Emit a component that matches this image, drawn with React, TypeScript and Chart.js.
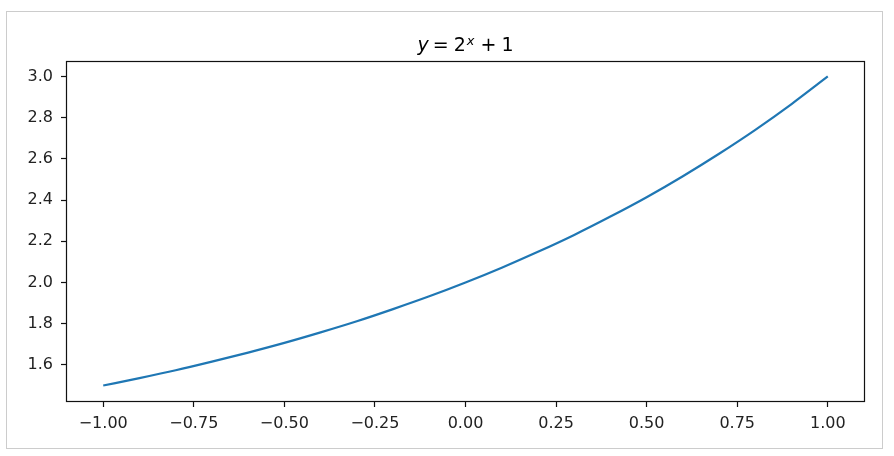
import React, { useEffect, useRef } from "react";
import { Chart, registerables } from "chart.js";

Chart.register(...registerables);

const xValues = [-1.0, -0.9, -0.8, -0.7, -0.6, -0.5, -0.4, -0.3, -0.2, -0.1, 0.0, 0.1, 0.2, 0.3, 0.4, 0.5, 0.6, 0.7, 0.8, 0.9, 1.0];
const yValues = [1.5, 1.536, 1.574, 1.616, 1.66, 1.707, 1.758, 1.812, 1.871, 1.933, 2.0, 2.072, 2.149, 2.231, 2.32, 2.414, 2.516, 2.625, 2.741, 2.866, 3.0];
const xTicks = [-1.0, -0.75, -0.5, -0.25, 0.0, 0.25, 0.5, 0.75, 1.0];
const yTicks = [1.6, 1.8, 2.0, 2.2, 2.4, 2.6, 2.8, 3.0];

const W = 894;
const H = 456;

const framePlugin = {
  id: "frame",
  beforeDraw(chart: any) {
    const ctx = chart.ctx;
    ctx.save();
    ctx.fillStyle = "#ffffff";
    ctx.fillRect(0, 0, W, H);
    ctx.strokeStyle = "#cccccc";
    ctx.lineWidth = 1;
    ctx.strokeRect(6.5, 11.5, 876, 437);
    ctx.restore();
  },
  afterDraw(chart: any) {
    const ctx = chart.ctx;
    const a = chart.chartArea;
    ctx.save();
    ctx.strokeStyle = "#111111";
    ctx.lineWidth = 1.2;
    ctx.strokeRect(a.left - 0.5, a.top + 0.5, a.right - a.left + 1, a.bottom - a.top);
    // title: y = 2^x + 1
    const big = 19;
    const small = 13;
    const parts: { t: string; f: string; dy: number; gap: number }[] = [
      { t: "y", f: `oblique ${big}px "DejaVu Sans"`, dy: 0, gap: 4 },
      { t: "=", f: `${big}px "DejaVu Sans"`, dy: 0, gap: 5 },
      { t: "2", f: `${big}px "DejaVu Sans"`, dy: 0, gap: 1 },
      { t: "x", f: `oblique ${small}px "DejaVu Sans"`, dy: -6, gap: 6 },
      { t: "+", f: `${big}px "DejaVu Sans"`, dy: 0, gap: 5 },
      { t: "1", f: `${big}px "DejaVu Sans"`, dy: 0, gap: 0 },
    ];
    let total = 0;
    const widths: number[] = [];
    for (const p of parts) {
      ctx.font = p.f;
      const w = ctx.measureText(p.t).width;
      widths.push(w);
      total += w + p.gap;
    }
    let x = (a.left + a.right) / 2 - total / 2;
    const baseY = 51;
    ctx.fillStyle = "#000000";
    ctx.textBaseline = "alphabetic";
    ctx.textAlign = "left";
    parts.forEach((p, i) => {
      ctx.font = p.f;
      ctx.fillText(p.t, x, baseY + p.dy);
      x += widths[i] + p.gap;
    });
    ctx.restore();
  },
};

export default function App() {
  const ref = useRef<HTMLCanvasElement | null>(null);
  useEffect(() => {
    if (!ref.current) return;
    const chart = new Chart(ref.current, {
      type: "scatter",
      data: {
        datasets: [
          {
            data: xValues.map((x, i) => ({ x, y: yValues[i] })),
            showLine: true,
            borderColor: "#1f77b4",
            backgroundColor: "#1f77b4",
            borderWidth: 2.2,
            pointRadius: 0,
            cubicInterpolationMode: "monotone",
          } as any,
        ],
      },
      options: {
        responsive: false,
        animation: false,
        devicePixelRatio: 1,
        layout: { padding: { left: 0, right: 30, top: 61, bottom: 0 } },
        plugins: { legend: { display: false }, tooltip: { enabled: false }, title: { display: false } },
        scales: {
          x: {
            type: "linear",
            min: -1.1,
            max: 1.1,
            afterBuildTicks: (s: any) => {
              s.ticks = xTicks.map((v) => ({ value: v }));
            },
            afterFit: (s: any) => {
              s.height = 55;
            },
            grid: { display: true, drawOnChartArea: false, drawTicks: true, tickLength: 6, tickColor: "#111111", tickWidth: 1.2 },
            border: { display: false },
            ticks: {
              color: "#222222",
              padding: 7,
              maxRotation: 0,
              autoSkip: false,
              font: { family: "DejaVu Sans", size: 16 },
              callback: (v: any) => {
                const n = Number(v);
                const s = Math.abs(n).toFixed(2);
                return n < 0 ? "\u2212" + s : s;
              },
            },
          },
          y: {
            type: "linear",
            min: 1.425,
            max: 3.075,
            afterBuildTicks: (s: any) => {
              s.ticks = yTicks.map((v) => ({ value: v }));
            },
            afterFit: (s: any) => {
              s.width = 67;
            },
            grid: { display: true, drawOnChartArea: false, drawTicks: true, tickLength: 6, tickColor: "#111111", tickWidth: 1.2 },
            border: { display: false },
            ticks: {
              color: "#222222",
              padding: 8,
              autoSkip: false,
              font: { family: "DejaVu Sans", size: 16 },
              callback: (v: any) => Number(v).toFixed(1),
            },
          },
        },
      },
      plugins: [framePlugin],
    });
    return () => chart.destroy();
  }, []);
  return (
    <div style={{ position: "absolute", left: 0, top: 0, width: W, height: H }}>
      <canvas ref={ref} width={W} height={H} style={{ width: W, height: H, display: "block" }} />
    </div>
  );
}
